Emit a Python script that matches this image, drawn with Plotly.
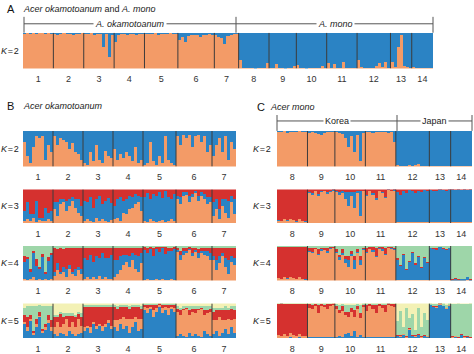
import plotly.graph_objects as go

W, H = 474, 354
ORANGE = '#F39B67'
BLUE = '#2B83C4'
RED = '#D5312F'
GREEN = '#9ED6A9'
YELLOW = '#F3F1B5'
FONT = 'Liberation Sans, Arial, sans-serif'

okam_pops = ['1', '2', '3', '4', '5', '6', '7']
mono_pops = ['8', '9', '10', '11', '12', '13', '14']
all_pops = okam_pops + mono_pops

# ---------- Panel A (K=2, both species): orange share per individual (%) ----------
A_orange = [
    [99, 100, 98, 100, 99, 100, 100, 99, 100, 98],
    [98, 97, 99, 100, 98, 99, 97, 98, 99, 100],
    [99, 98, 100, 97, 98, 99, 60, 98, 32, 97],
    [75, 97, 99, 98, 96, 98, 99, 97, 98, 99],
    [99, 98, 99, 100, 97, 99, 98, 99, 100, 98, 99],
    [80, 90, 75, 92, 97, 95, 96, 88, 94, 97, 98, 96],
    [95, 90, 85, 70, 92, 97, 98, 99],
    [25, 3, 1, 2, 1, 0, 1, 2, 1, 15],
    [2, 1, 12, 1, 2, 0, 3, 1, 8],
    [10, 2, 1, 0, 1, 2, 1, 3, 8, 2],
    [15, 2, 14, 1, 2, 20, 3, 1, 2, 3],
    [25, 5, 3, 1, 2, 3, 8, 15, 5, 18, 3],
    [20, 6, 60, 95, 8, 4, 2],
    [5, 2, 3, 1, 2, 1, 2],
]

# ---------- Panel B (A. okamotoanum) ----------
B_K2_orange = [
    [70, 30, 10, 55, 85, 80, 85, 20, 60, 40],
    [85, 60, 80, 75, 70, 50, 65, 40, 35, 20],
    [10, 5, 40, 15, 60, 20, 10, 45, 30, 25],
    [50, 20, 35, 25, 40, 30, 15, 55, 10, 20],
    [5, 10, 70, 15, 5, 30, 10, 85, 20, 10, 5],
    [85, 60, 90, 80, 90, 55, 85, 90, 70, 85, 40, 60],
    [30, 60, 80, 40, 85, 20, 70, 50],
]
B_K3_orange = [
    [5, 10, 5, 15, 3, 10, 5, 5, 10, 5],
    [40, 20, 55, 60, 35, 50, 65, 45, 30, 20],
    [5, 10, 5, 3, 15, 5, 10, 5, 3, 8],
    [10, 15, 5, 30, 25, 40, 45, 55, 60, 35],
    [5, 3, 10, 5, 3, 5, 8, 3, 5, 10, 5],
    [70, 55, 80, 85, 60, 75, 90, 65, 80, 70, 55, 60],
    [20, 40, 10, 50, 30, 15, 60, 25],
]
B_K3_blue = [
    [30, 50, 20, 10, 60, 5, 10, 40, 20, 30],
    [20, 40, 15, 10, 30, 20, 10, 25, 40, 30],
    [60, 50, 70, 40, 55, 75, 45, 60, 70, 50],
    [40, 55, 70, 35, 45, 40, 30, 30, 20, 40],
    [70, 85, 60, 80, 75, 85, 65, 90, 70, 60, 80],
    [10, 20, 10, 5, 20, 10, 5, 15, 10, 15, 20, 15],
    [40, 30, 30, 20, 40, 50, 20, 45],
]
B_K4_orange = [
    [5, 3, 5, 10, 3, 5, 3, 5, 3, 5],
    [15, 30, 20, 25, 10, 35, 20, 15, 30, 20],
    [5, 10, 5, 10, 5, 15, 5, 10, 5, 5],
    [10, 20, 30, 45, 55, 40, 60, 35, 25, 50],
    [3, 5, 3, 2, 5, 3, 5, 3, 2, 5, 3],
    [85, 60, 75, 80, 90, 70, 85, 65, 80, 75, 70, 60],
    [60, 30, 50, 70, 40, 20, 55, 45],
]
B_K4_blue = [
    [50, 60, 20, 70, 40, 30, 65, 15, 55, 70],
    [10, 20, 5, 15, 25, 10, 5, 20, 10, 15],
    [60, 50, 70, 45, 65, 50, 75, 55, 60, 70],
    [50, 40, 40, 30, 20, 30, 20, 40, 45, 30],
    [85, 75, 90, 70, 85, 80, 90, 75, 85, 80, 90],
    [5, 15, 10, 5, 3, 10, 5, 15, 5, 10, 15, 20],
    [10, 30, 20, 10, 25, 40, 15, 20],
]
B_K4_red = [
    [15, 5, 10, 5, 20, 5, 10, 5, 10, 5],
    [70, 40, 70, 50, 60, 50, 70, 60, 55, 60],
    [30, 35, 20, 40, 25, 30, 15, 30, 30, 20],
    [35, 35, 25, 20, 20, 25, 15, 20, 25, 15],
    [10, 15, 5, 25, 8, 15, 3, 20, 10, 10, 5],
    [5, 10, 10, 10, 5, 15, 5, 10, 10, 10, 10, 15],
    [25, 35, 25, 15, 30, 35, 25, 30],
]
B_K5_blue = [
    [40, 20, 50, 10, 30, 60, 15, 25, 45, 20],
    [10, 5, 15, 10, 5, 20, 10, 5, 10, 15],
    [20, 30, 15, 40, 25, 35, 20, 30, 45, 25],
    [30, 20, 40, 25, 35, 15, 30, 45, 20, 25],
    [80, 70, 85, 60, 75, 90, 70, 80, 65, 85, 75],
    [5, 10, 5, 3, 15, 5, 10, 5, 3, 20, 10, 5],
    [10, 20, 5, 15, 25, 10, 30, 15],
]
B_K5_orange = [
    [5, 10, 5, 5, 10, 3, 5, 5, 5, 10],
    [20, 40, 15, 30, 50, 10, 35, 25, 45, 20],
    [10, 5, 15, 5, 10, 5, 15, 10, 5, 10],
    [20, 30, 15, 35, 20, 40, 25, 15, 35, 30],
    [10, 15, 5, 20, 10, 5, 15, 10, 20, 5, 10],
    [70, 55, 75, 80, 50, 70, 60, 75, 80, 45, 60, 70],
    [40, 30, 55, 35, 25, 45, 20, 40],
]
B_K5_red = [
    [20, 30, 10, 5, 15, 10, 5, 10, 15, 20],
    [30, 15, 40, 20, 10, 35, 20, 30, 15, 25],
    [60, 55, 60, 45, 55, 50, 55, 50, 40, 55],
    [40, 35, 35, 30, 35, 30, 35, 30, 35, 30],
    [5, 10, 5, 15, 10, 3, 10, 5, 10, 5, 10],
    [10, 15, 5, 5, 15, 10, 15, 5, 5, 15, 10, 10],
    [25, 30, 20, 30, 30, 25, 35, 25],
]
B_K5_green = [
    [20, 30, 25, 70, 35, 20, 65, 50, 25, 40],
    [5, 5, 5, 10, 5, 5, 5, 5, 5, 10],
    [5, 5, 5, 5, 5, 5, 5, 5, 5, 5],
    [5, 5, 5, 5, 5, 5, 5, 5, 5, 5],
    [3, 3, 3, 3, 3, 1, 3, 3, 3, 3, 3],
    [5, 5, 5, 2, 10, 5, 5, 5, 2, 10, 10, 5],
    [10, 5, 5, 5, 10, 5, 5, 10],
]

# ---------- Panel C (A. mono) ----------
C_K2_orange = [
    [99, 98, 100, 97, 99, 98, 99, 100, 98, 99],
    [97, 98, 95, 92, 88, 97, 98, 99, 98],
    [98, 95, 92, 80, 55, 85, 40, 90, 15, 97],
    [98, 99, 97, 99, 98, 99, 98, 97, 99, 70],
    [5, 2, 3, 1, 6, 2, 4, 8, 2, 3, 1],
    [2, 1, 3, 2, 1, 2, 1],
    [1, 2, 1, 3, 1, 2, 1],
]
C_K3_orange = [
    [8, 5, 10, 6, 12, 8, 5, 10, 6, 4],
    [90, 85, 95, 80, 92, 96, 88, 94, 97],
    [92, 85, 90, 70, 50, 80, 45, 88, 20, 95],
    [80, 95, 85, 70, 96, 90, 75, 98, 95, 97],
    [1, 2, 1, 3, 1, 2, 1, 2, 1, 2, 1],
    [1, 1, 2, 1, 1, 2, 1],
    [1, 1, 1, 2, 1, 1, 1],
]
C_K3_blue = [
    [1, 0, 0, 1, 0, 0, 1, 0, 0, 1],
    [2, 3, 1, 5, 2, 1, 3, 2, 1],
    [3, 5, 5, 20, 40, 10, 45, 7, 75, 2],
    [2, 1, 3, 2, 1, 2, 1, 1, 2, 2],
    [90, 80, 95, 85, 97, 92, 88, 95, 90, 96, 94],
    [97, 96, 95, 98, 97, 95, 98],
    [98, 97, 98, 96, 98, 97, 98],
]
C_K4_orange = [
    [8, 5, 10, 6, 12, 8, 5, 10, 6, 4],
    [85, 80, 92, 75, 88, 90, 82, 93, 95],
    [80, 60, 75, 50, 40, 70, 35, 80, 45, 90],
    [80, 92, 85, 70, 94, 88, 75, 96, 93, 90],
    [2, 3, 1, 2, 1, 2, 3, 1, 2, 1, 2],
    [1, 1, 1, 2, 1, 1, 1],
    [1, 2, 1, 1, 2, 1, 1],
]
C_K4_blue = [
    [1, 0, 0, 1, 0, 0, 1, 0, 0, 1],
    [2, 3, 1, 2, 2, 1, 3, 2, 1],
    [3, 10, 5, 15, 20, 8, 25, 5, 15, 2],
    [2, 1, 3, 2, 1, 2, 1, 1, 2, 2],
    [60, 40, 75, 30, 55, 80, 45, 70, 35, 65, 50],
    [95, 92, 90, 96, 93, 88, 95],
    [3, 5, 2, 4, 3, 10, 2],
]
C_K4_red = [
    [89, 93, 88, 91, 86, 90, 92, 88, 92, 93],
    [8, 12, 3, 15, 6, 5, 10, 3, 2],
    [7, 5, 10, 5, 10, 7, 10, 5, 10, 3],
    [15, 5, 10, 25, 3, 8, 20, 2, 3, 5],
    [2, 1, 2, 1, 2, 1, 2, 1, 2, 1, 2],
    [1, 1, 2, 1, 1, 2, 1],
    [1, 1, 1, 1, 1, 1, 1],
]
C_K5_blue = [
    [0, 1, 0, 0, 1, 0, 0, 1, 0, 0],
    [1, 2, 1, 2, 1, 1, 2, 1, 1],
    [2, 5, 3, 10, 15, 5, 20, 3, 8, 2],
    [1, 1, 2, 1, 1, 2, 1, 1, 1, 1],
    [5, 3, 10, 2, 25, 5, 3, 8, 2, 5, 3],
    [95, 90, 88, 96, 92, 85, 94],
    [2, 3, 1, 8, 2, 3, 1],
]
C_K5_orange = [
    [8, 5, 10, 6, 12, 8, 5, 10, 6, 4],
    [85, 80, 92, 70, 90, 88, 82, 93, 95],
    [80, 65, 75, 55, 45, 70, 40, 80, 50, 88],
    [75, 90, 80, 70, 92, 85, 72, 95, 90, 88],
    [2, 3, 1, 2, 1, 2, 3, 1, 2, 1, 2],
    [1, 1, 1, 2, 1, 1, 1],
    [1, 2, 1, 1, 2, 1, 1],
]
C_K5_red = [
    [90, 93, 88, 92, 85, 90, 93, 87, 92, 94],
    [12, 15, 5, 25, 7, 8, 14, 4, 3],
    [8, 10, 12, 10, 15, 10, 20, 7, 12, 5],
    [20, 7, 15, 25, 5, 10, 24, 3, 7, 9],
    [1, 1, 1, 1, 1, 1, 1, 1, 1, 1, 1],
    [1, 1, 1, 1, 1, 1, 1],
    [1, 1, 1, 1, 1, 1, 1],
]
C_K5_green = [
    [1, 1, 1, 1, 1, 1, 1, 1, 1, 1],
    [1, 2, 1, 2, 1, 2, 1, 1, 0],
    [8, 15, 8, 20, 20, 12, 15, 8, 25, 3],
    [2, 1, 2, 3, 1, 2, 2, 1, 1, 1],
    [40, 70, 20, 80, 30, 60, 15, 75, 25, 65, 45],
    [2, 6, 8, 1, 5, 10, 3],
    [94, 92, 96, 88, 93, 93, 96],
]


def px(x):
    return x / W


def py(y):
    return 1 - y / H


fig = go.Figure()
shapes = []
annotations = []
layout_axes = {}


def add_panel(idx, pops, comps, colors, xpx, ypx, klabel, kx):
    ax = '' if idx == 1 else str(idx)
    flat = [[v for pop in comp for v in pop] for comp in comps]
    n = len(flat[0])
    top = [100 - sum(c[i] for c in flat) for i in range(n)]
    flat.append(top)
    xs = list(range(n))
    for comp, col in zip(flat, colors):
        fig.add_trace(go.Bar(
            x=xs, y=[v / 100 for v in comp], width=1,
            marker=dict(color=col, line=dict(width=0)),
            xaxis='x' + ax, yaxis='y' + ax,
            showlegend=False, hoverinfo='skip'))
    sizes = [len(p) for p in comps[0]]
    centers, bounds = [], []
    s = 0
    for k in sizes:
        centers.append(s + (k - 1) / 2)
        s += k
        bounds.append(s)
    for b in bounds[:-1]:
        shapes.append(dict(type='line', xref='x' + ax, yref='y' + ax,
                           x0=b - 0.5, x1=b - 0.5, y0=0, y1=1,
                           line=dict(color='#3c3c3c', width=1)))
    layout_axes['xaxis' + ax] = dict(
        domain=[px(xpx[0]), px(xpx[1])], range=[-0.5, n - 0.5],
        anchor='y' + ax, tickvals=centers, ticktext=pops,
        ticks='outside', ticklen=2, tickcolor='rgba(0,0,0,0)',
        showgrid=False, zeroline=False, showline=False,
        tickfont=dict(size=9, color='#333', family=FONT))
    layout_axes['yaxis' + ax] = dict(
        domain=[py(ypx[1]), py(ypx[0])], range=[0, 1],
        anchor='x' + ax, visible=False)
    annotations.append(dict(
        text='<i>K</i>\u200a=\u200a' + klabel, x=px(kx), y=py((ypx[0] + ypx[1]) / 2),
        xref='paper', yref='paper', xanchor='right', yanchor='middle',
        showarrow=False, font=dict(size=9, color='#222', family=FONT)))


rows_y = [(132, 168), (191, 225), (248, 283), (306, 341)]
BX = (23, 236)
CX = (277, 472)

add_panel(1, all_pops, [A_orange], [ORANGE, BLUE], (23, 433), (33, 69), '2', 21)
add_panel(2, okam_pops, [B_K2_orange], [ORANGE, BLUE], BX, rows_y[0], '2', 21)
add_panel(3, okam_pops, [B_K3_orange, B_K3_blue], [ORANGE, BLUE, RED], BX, rows_y[1], '3', 21)
add_panel(4, okam_pops, [B_K4_orange, B_K4_blue, B_K4_red],
          [ORANGE, BLUE, RED, GREEN], BX, rows_y[2], '4', 21)
add_panel(5, okam_pops, [B_K5_blue, B_K5_orange, B_K5_red, B_K5_green],
          [BLUE, ORANGE, RED, GREEN, YELLOW], BX, rows_y[3], '5', 21)
add_panel(6, mono_pops, [C_K2_orange], [ORANGE, BLUE], CX, rows_y[0], '2', 273)
add_panel(7, mono_pops, [C_K3_orange, C_K3_blue], [ORANGE, BLUE, RED], CX, rows_y[1], '3', 273)
add_panel(8, mono_pops, [C_K4_orange, C_K4_blue, C_K4_red],
          [ORANGE, BLUE, RED, GREEN], CX, rows_y[2], '4', 273)
add_panel(9, mono_pops, [C_K5_blue, C_K5_orange, C_K5_red, C_K5_green],
          [BLUE, ORANGE, RED, GREEN, YELLOW], CX, rows_y[3], '5', 273)


def bracket(x_ticks, y, y_top, y_bot):
    shapes.append(dict(type='line', xref='paper', yref='paper',
                       x0=px(x_ticks[0]), x1=px(x_ticks[-1]), y0=py(y), y1=py(y),
                       line=dict(color='#555', width=1)))
    for xt in x_ticks:
        shapes.append(dict(type='line', xref='paper', yref='paper',
                           x0=px(xt), x1=px(xt), y0=py(y_top), y1=py(y_bot),
                           line=dict(color='#555', width=1)))


def label(text, x, y, size=9, anchor='center', bg=None, color='#222'):
    d = dict(text=text, x=px(x), y=py(y), xref='paper', yref='paper',
             xanchor=anchor, yanchor='middle', showarrow=False,
             font=dict(size=size, color=color, family=FONT))
    if bg:
        d['bgcolor'] = bg
        d['borderpad'] = 1
    annotations.append(d)


bracket([24, 236, 433], 24, 17, 33)
label('<i>A. okamotoanum</i>', 130, 24, bg='white')
label('<i>A. mono</i>', 335, 24, bg='white')
bracket([277, 397, 472], 122, 116, 132)
label('Korea', 337, 122, bg='white')
label('Japan', 434, 122, bg='white')

label('A', 5, 9, size=11, anchor='left', color='#111')
label('<i>Acer okamotoanum</i> and <i>A. mono</i>', 21, 9, size=9, anchor='left')
label('B', 5, 107, size=11, anchor='left', color='#111')
label('<i>Acer okamotoanum</i>', 21, 107, size=9, anchor='left')
label('C', 255, 108, size=11, anchor='left', color='#111')
label('<i>Acer mono</i>', 268, 108, size=9, anchor='left')

fig.update_layout(
    width=W, height=H, margin=dict(l=0, r=0, t=0, b=0),
    paper_bgcolor='white', plot_bgcolor='white',
    barmode='stack', bargap=0, showlegend=False,
    shapes=shapes, annotations=annotations,
    font=dict(family=FONT),
    **layout_axes)

fig.write_html('out.html')
